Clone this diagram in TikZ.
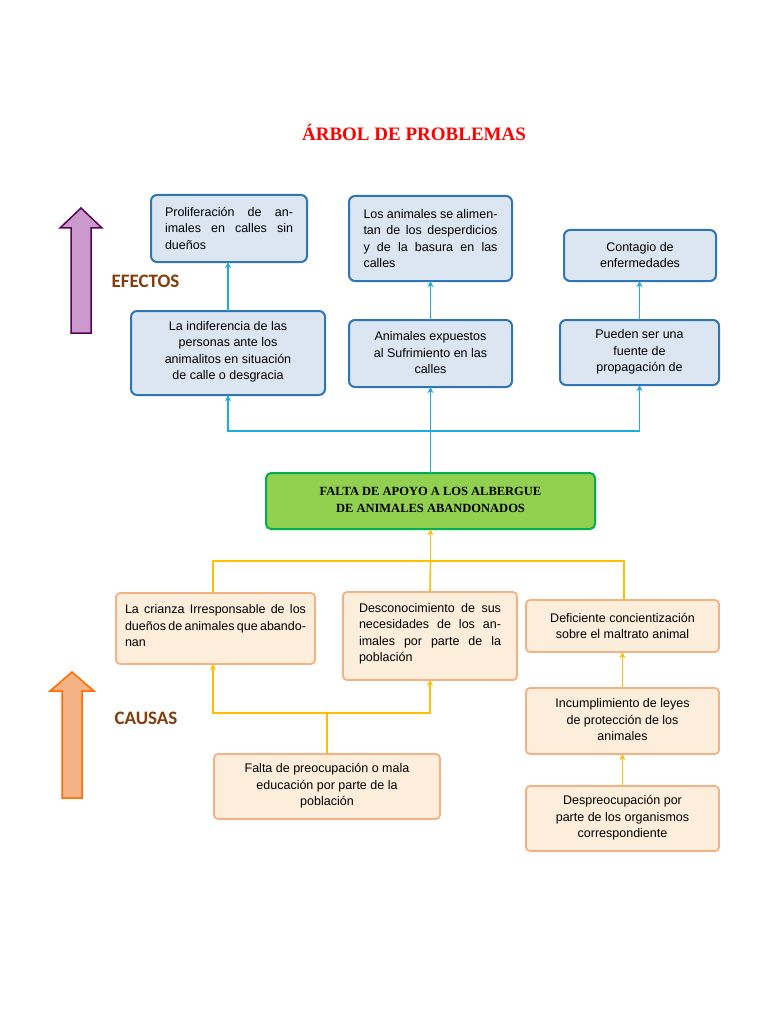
\documentclass[tikz,border=0pt]{standalone}
\usepackage{fontspec}
\setmainfont{Liberation Sans}
\newfontfamily\serifb{Liberation Serif}
\newfontfamily\calib{Carlito}
\usetikzlibrary{arrows.meta}
\definecolor{bfill}{HTML}{DCE6F2}
\definecolor{bdraw}{HTML}{2E75B6}
\definecolor{cfill}{HTML}{FDEEDC}
\definecolor{cdraw}{HTML}{F4B183}
\definecolor{gfill}{HTML}{92D050}
\definecolor{gdraw}{HTML}{00B050}
\definecolor{blink}{HTML}{1AADE0}
\definecolor{ylink}{HTML}{FFC000}
\definecolor{brn}{HTML}{843C0C}
\tikzset{
 eff/.style={draw=bdraw,fill=bfill,line width=2pt,rounded corners=6pt,inner sep=0pt},
 cau/.style={draw=cdraw,fill=cfill,line width=1.8pt,rounded corners=4pt,inner sep=0pt},
 txt/.style={font=\fontsize{12.5}{16.5}\selectfont,align=#1},
 bl/.style={blink,line width=1.6pt},
 yl/.style={ylink,line width=1.6pt},
 tip/.style={-{Stealth[length=6pt,width=6pt]}}
}
\begin{document}
\begin{tikzpicture}[x=1pt,y=-1pt]
\useasboundingbox (0,0) rectangle (768,1024);
\node[font=\serifb\bfseries\fontsize{19}{22}\selectfont,text=red] (title) at (414,132) {ÁRBOL DE PROBLEMAS};
% big arrows
\draw[draw=violet!70!black,fill=violet!40,line width=1.5pt] (71,333)--(71,228)--(60,228)--(81,208)--(102,228)--(91,228)--(91,333)--cycle;
\draw[draw=orange!85!red,fill=cdraw,line width=1.5pt] (62,798)--(62,691)--(50,691)--(72,672)--(94,691)--(82,691)--(82,798)--cycle;
\node[font=\calib\bfseries\fontsize{19}{22}\selectfont,text=brn,anchor=west] (efe) at (108,281) {EFECTOS};
\node[font=\calib\bfseries\fontsize{19}{22}\selectfont,text=brn,anchor=west] (cau) at (111,718) {CAUSAS};
% effects
\path[eff] (151,195) rectangle (307,262); \node (e1) at (229,228.5) [minimum width=156,minimum height=67] {};
\node[txt=justify,text width=128] at (229,228) {Proliferación de animales en calles sin dueños};
\path[eff] (349,196) rectangle (512,281); \node (e2) at (430.5,238.5) [minimum width=163,minimum height=85] {};
\node[txt=justify,text width=134] at (430.5,238.5) {Los animales se alimentan de los desperdicios y de la basura en las calles};
\path[eff] (564,230) rectangle (716,281); \node (e3) at (640,255.5) [minimum width=152,minimum height=51] {};
\node[txt=center] at (640,255) {Contagio de\\enfermedades};
\path[eff] (131,311) rectangle (325,395); \node (e4) at (228,353) [minimum width=194,minimum height=84] {};
\node[txt=center] at (228,352) {La indiferencia de las\\personas ante los\\animalitos en situación\\de calle o desgracia};
\path[eff] (349,320) rectangle (512,387); \node (e5) at (430.5,353.5) [minimum width=163,minimum height=67] {};
\node[txt=center] at (430.5,353) {Animales expuestos\\al Sufrimiento en las\\calles};
\path[eff] (560,320) rectangle (719,385); \node (e6) at (639.5,352.5) [minimum width=159,minimum height=65] {};
\node[txt=center] at (639.5,352) {Pueden ser una\\fuente de\\propagación de};
% center
\path[draw=gdraw,fill=gfill,line width=2pt,rounded corners=5pt] (266,473) rectangle (595,529);
\node (core) at (430.5,501) [minimum width=329,minimum height=56] {};
\node[font=\serifb\bfseries\fontsize{12.5}{17}\selectfont,align=center] at (430.5,500) {FALTA DE APOYO A LOS ALBERGUE\\DE ANIMALES ABANDONADOS};
% causes
\path[cau] (116,593) rectangle (315,664); \node (c1) at (215.5,628.5) [minimum width=199,minimum height=71] {};
\node[txt=justify,text width=181] at (215.5,626) {La crianza Irresponsable de los dueños de animales que abandonan};
\path[cau] (343,592) rectangle (517,680); \node (c2) at (430,636) [minimum width=174,minimum height=88] {};
\node[txt=justify,text width=142] at (430,634) {Desconocimiento de sus necesidades de los animales por parte de la población};
\path[cau] (526,600) rectangle (719,652); \node (c3) at (622.5,626) [minimum width=193,minimum height=52] {};
\node[txt=center] at (622.5,626) {Deficiente concientización\\sobre el maltrato animal};
\path[cau] (526,688) rectangle (719,754); \node (c4) at (622.5,721) [minimum width=193,minimum height=66] {};
\node[txt=center] at (622.5,720) {Incumplimiento de leyes\\de protección de los\\animales};
\path[cau] (214,754) rectangle (440,819); \node (c5) at (327,786.5) [minimum width=226,minimum height=65] {};
\node[txt=center] at (327,786) {Falta de preocupación o mala\\educación por parte de la\\población};
\path[cau] (526,786) rectangle (719,851); \node (c6) at (622.5,818.5) [minimum width=193,minimum height=65] {};
\node[txt=center] at (622.5,818) {Despreocupación por\\parte de los organismos\\correspondiente};
% blue links
\coordinate (bj) at (430.5,431);
\draw[bl] (core.north) -- (bj);
\draw[bl,tip] (bj) -| (e4.south);
\draw[bl,tip] (bj) -- (e5.south);
\draw[bl,tip] (bj) -| (e6.south);
\draw[bl,tip] (e4.north) -- (e4.north |- e1.south);
\draw[bl,tip] (e5.north) -- (e2.south);
\draw[bl,tip] (e6.north) -- (e6.north |- e3.south);
% yellow links
\coordinate (yj) at (430.5,561);
\draw[yl] (213,593) |- (yj);
\draw[yl] (624,600) |- (yj);
\draw[yl] (c2.north) -- (yj);
\draw[yl,tip] (yj) -- (core.south);
\coordinate (yk) at (327,713);
\draw[yl] (c5.north) -- (yk);
\draw[yl,tip] (yk) -| (213,664);
\draw[yl,tip] (yk) -| (430,680);
\draw[yl,tip] (c6.north) -- (c4.south);
\draw[yl,tip] (c4.north) -- (c3.south);
\end{tikzpicture}
\end{document}
